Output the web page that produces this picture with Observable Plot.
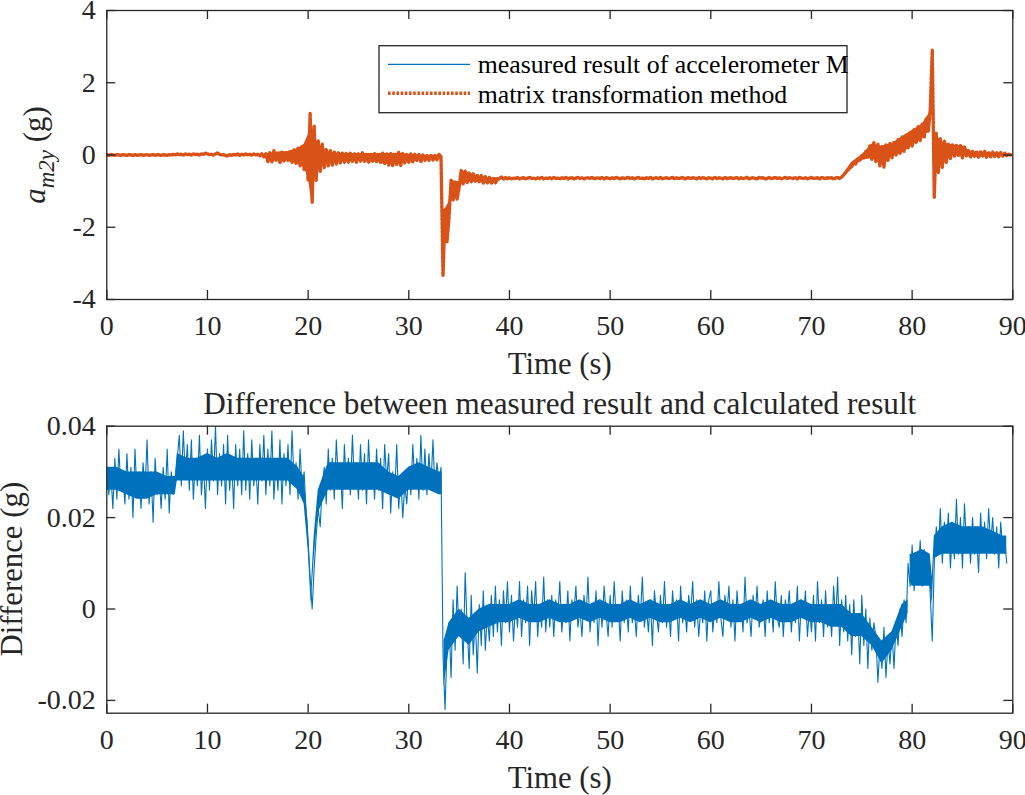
<!DOCTYPE html>
<html>
<head>
<meta charset="utf-8">
<script src="https://cdn.jsdelivr.net/npm/d3@7"></script>
<script src="https://cdn.jsdelivr.net/npm/@observablehq/plot@0.6"></script>
<style>
  html, body { margin: 0; padding: 0; background: #fff; }
  #chart { width: 1025px; height: 795px; }
  #chart svg { display: block; }
</style>
</head>
<body>
<div id="chart"></div>
<script>
// ---------- data ----------
const sampleInterval = 0.2; // s between samples
const xTicks = [0, 10, 20, 30, 40, 50, 60, 70, 80, 90];
const accelTicks = [-4, -2, 0, 2, 4];
const diffTicks = [-0.02, 0, 0.02, 0.04];
const legendLabels = ["measured result of accelerometer M", "matrix transformation method"];
const diffTitle = "Difference between measured result and calculated result";

// a_m2y (g), measured (0.2 s steps)
const accelMeasured = [
  0.01,-0.01,0.01,0,-0.01,0.01,0,-0.01,0.01,0,
  -0.01,0.01,0,-0.01,0.01,-0.01,0,0.01,-0.01,0,
  0.01,-0.01,0,0.01,-0.01,0.01,0,-0.01,0.01,0,
  -0.01,0.01,0,0.02,0,0.03,0.01,0.02,0,0.03,
  0.01,0.02,0,0.03,0.01,0.02,0,0.03,0.02,0.05,
  0.03,0.01,0.02,0,0.03,0.06,0.02,0,0.01,-0.02,
  -0.02,0.01,-0.01,0.02,0,0.03,-0.01,0.02,0,0.03,
  0,0.02,-0.01,0.03,0,0.02,-0.02,0.04,-0.05,0.03,
  -0.18,0.06,-0.2,0.12,-0.15,0.04,-0.22,0.08,-0.18,0.05,
  -0.15,0.1,-0.2,0.14,-0.25,0.2,-0.3,0.25,-0.4,0.35,
  -0.7,1.16,-1.31,0.8,-0.7,0.4,-0.45,0.3,-0.35,0.15,
  -0.3,0.12,-0.28,0.08,-0.25,0.06,-0.22,0.05,-0.2,0.04,
  -0.2,0.05,-0.18,0.03,-0.2,0.04,-0.17,0.06,-0.19,0.03,
  -0.21,0.02,-0.18,0.04,-0.2,0.02,-0.22,0.05,-0.25,0.03,
  -0.28,0.05,-0.3,0.02,-0.26,0.07,-0.29,0.04,-0.22,0.01,
  -0.2,0.03,-0.19,0.02,-0.16,0.01,-0.18,0,-0.15,-0.02,
  -0.15,0,-0.14,-0.02,-0.13,0.02,-0.05,-3.35,-1.5,-2.4,
  -1.7,-0.7,-1.25,-0.75,-1.22,-0.9,-0.43,-0.8,-0.45,-0.76,
  -0.5,-0.74,-0.52,-0.72,-0.55,-0.74,-0.57,-0.78,-0.6,-0.77,
  -0.62,-0.78,-0.66,-0.77,-0.68,-0.65,-0.61,-0.67,-0.62,-0.66,
  -0.63,-0.66,-0.64,-0.65,-0.62,-0.66,-0.64,-0.63,-0.66,-0.64,
  -0.62,-0.65,-0.64,-0.66,-0.63,-0.65,-0.62,-0.66,-0.64,-0.65,
  -0.63,-0.66,-0.62,-0.65,-0.64,-0.66,-0.63,-0.65,-0.62,-0.66,
  -0.64,-0.63,-0.66,-0.64,-0.62,-0.65,-0.63,-0.66,-0.64,-0.63,
  -0.65,-0.62,-0.66,-0.64,-0.63,-0.65,-0.62,-0.66,-0.63,-0.64,
  -0.66,-0.63,-0.65,-0.62,-0.64,-0.66,-0.63,-0.65,-0.64,-0.62,
  -0.65,-0.63,-0.66,-0.64,-0.62,-0.65,-0.64,-0.66,-0.63,-0.65,
  -0.62,-0.66,-0.64,-0.63,-0.65,-0.62,-0.66,-0.64,-0.63,-0.65,
  -0.64,-0.62,-0.66,-0.63,-0.65,-0.64,-0.62,-0.66,-0.64,-0.63,
  -0.65,-0.63,-0.64,-0.66,-0.62,-0.65,-0.63,-0.64,-0.66,-0.63,
  -0.64,-0.66,-0.62,-0.65,-0.63,-0.64,-0.66,-0.62,-0.65,-0.64,
  -0.63,-0.65,-0.64,-0.62,-0.66,-0.63,-0.65,-0.64,-0.62,-0.66,
  -0.64,-0.63,-0.65,-0.66,-0.62,-0.64,-0.63,-0.66,-0.65,-0.62,
  -0.66,-0.64,-0.62,-0.65,-0.63,-0.66,-0.64,-0.62,-0.65,-0.63,
  -0.64,-0.65,-0.63,-0.66,-0.62,-0.64,-0.65,-0.63,-0.66,-0.64,
  -0.62,-0.65,-0.64,-0.63,-0.66,-0.62,-0.64,-0.65,-0.63,-0.64,
  -0.63,-0.66,-0.64,-0.62,-0.65,-0.61,-0.55,-0.49,-0.42,-0.36,
  -0.32,-0.22,-0.25,-0.12,-0.16,-0.02,-0.08,0.1,-0.05,0.25,
  -0.12,0.35,-0.18,0.3,-0.3,0.22,-0.34,0.28,-0.15,0.32,
  -0.08,0.35,0,0.42,0.05,0.5,0.1,0.55,0.2,0.62,
  0.25,0.7,0.35,0.78,0.4,0.85,0.5,1,0.65,1.25,
  2.9,-1.17,0.6,-0.5,0.45,-0.35,0.38,-0.2,0.3,-0.1,
  0.28,-0.03,0.27,-0.01,0.26,-0.08,0.22,-0.02,0.12,-0.05,
  0.1,-0.05,0.08,-0.06,0.09,-0.04,0.1,-0.06,0.07,-0.05,
  0.08,-0.04,0.06,-0.05,0.07,-0.03,0.05,-0.02,0.03,0
];

// dense core of the a_m2y trace: [time s, low g, high g]; null = gap
const accelBand = [
  [15.8,-0.02,0.03],[16,-0.15,0.05],[17,-0.18,0.08],[18,-0.17,0.1],[19,-0.25,0.18],
  [19.6,-0.35,0.3],[20,-0.6,0.55],[20.3,-1.2,1.05],[20.6,-0.6,0.55],[21,-0.38,0.3],
  [22,-0.25,0.1],[23,-0.2,0.05],[24,-0.18,0.04],[25,-0.18,0.04],[26,-0.18,0.04],
  [27,-0.2,0.04],[28,-0.25,0.04],[29,-0.26,0.05],[30,-0.18,0.02],[31,-0.16,0],
  [32,-0.13,-0.01],[33.2,-0.12,0],
  [33.4,null,null],
  [33.6,-2.3,-1.5],[34,-1.9,-1.3],[34.2,-1.25,-0.7],[35,-1.2,-0.75],
  [35.1,null,null],
  [35.2,-0.8,-0.43],[36,-0.75,-0.5],[37,-0.76,-0.58],[38,-0.78,-0.64],[39,-0.68,-0.62],
  [39.2,null,null],
  [73.2,-0.58,-0.52],[74,-0.35,-0.2],[75,-0.15,0],[76,-0.1,0.3],[77,-0.25,0.25],
  [78,-0.05,0.32],[79,0.05,0.5],[80,0.25,0.68],[81,0.45,0.85],[81.8,0.7,1.2],
  [82,null,null],
  [82.2,-0.5,0.6],[83,-0.2,0.35],[84,-0.02,0.28],[85,-0.05,0.25],[85.7,-0.05,0.12],
  [86,-0.05,0.09],[88,-0.04,0.07],[89.8,-0.02,0.03]
];

// Difference (milli-g), 0.2 s steps
const diffMilliG = [
  31,25,30,22,33,24,35,26,29,23,
  34,24,31,20,35,25,30,22,32,26,
  37,23,30,19,33,25,29,22,31,24,
  35,21,30,25,28,33,38,27,39,29,
  36,26,37,24,33,27,38,25,32,22,
  35,26,37,28,40,25,34,27,36,23,
  38,26,33,22,36,27,35,25,39,26,
  34,24,37,27,32,23,36,28,38,25,
  35,27,39,24,33,26,37,23,34,27,
  36,25,39,28,32,24,35,26,30,21,
  15,7,0,9,16,22,18,27,31,23,
  35,26,33,24,37,28,31,22,36,27,
  33,25,38,27,32,24,36,26,34,23,
  37,27,32,24,35,26,33,22,36,28,
  34,21,30,25,36,22,29,20,27,23,
  31,25,36,27,33,24,38,26,35,25,
  34,27,37,26,32,28,31,-10,-22,-8,
  -3,-15,2,-9,5,-6,0,-12,8,-4,
  -13,3,-10,-2,-14,1,-8,4,-9,-1,
  -7,3,-6,5,-5,2,-8,4,-3,6,
  -5,3,-7,1,-4,6,-6,2,-3,5,
  -8,4,-2,6,-6,1,-4,7,-5,2,
  -4,3,-6,2,-2,6,-5,1,-3,4,
  -7,2,-1,5,-4,0,-6,3,-2,7,
  -5,1,-3,4,-8,2,-4,5,-1,-6,
  3,-4,6,-2,1,-7,4,-3,2,-5,
  5,-3,0,-6,3,-2,7,-4,1,-5,
  2,-8,4,-1,-5,3,-3,6,-4,1,
  -6,4,-2,2,-7,5,-3,1,-5,3,
  -1,6,-4,2,-6,0,-3,4,-7,2,
  4,-5,1,-3,6,-2,-6,3,-1,5,
  -4,2,-7,4,-2,1,-5,7,-3,0,
  -6,3,-2,5,-4,-1,2,-6,4,-3,
  1,-5,6,-2,-4,3,-6,2,-1,4,
  -5,1,-3,5,-7,2,-2,4,-6,0,
  -5,3,-7,6,-3,2,-6,4,-4,1,
  -6,5,-3,7,-8,2,-5,3,-7,1,
  -10,2,-6,-1,-12,3,-8,0,-13,-2,
  -9,-3,-6,-16,-8,-13,-4,-15,-7,-12,
  -5,-13,-3,-8,0,-6,2,-3,10,5,
  14,4,12,7,15,5,13,8,11,3,
  -7,10,18,12,22,10,19,13,21,9,
  17,11,24,12,20,9,23,14,18,10,
  20,12,16,8,21,13,19,11,22,14,
  20,12,18,9,19,13,15,10
];

// dense core of the difference trace: [time s, low mg, high mg]; null = gap
const diffBand = [
  [0,26,31],[1,26,31],[2,25,30],[3,24,30],[4,24,30],[5,25,30],[6,25,29],[6.8,25,29],
  [7,28,34],[8,28,33],[9,28,33],[10,28,34],[11,28,33],[12,28,34],[13,28,33],[14,28,33],
  [15,28,33],[16,28,33],[17,28,33],[18,28,33],[19,26,31],[19.6,23,29],[20,13,19],
  [20.3,1,4],[20.6,11,16],[21,21,26],[22,26,32],[23,26,32],[24,26,32],[25,26,32],
  [26,26,32],[27,26,32],[28,25,30],[29,24,29],[30,26,31],[31,26,32],[32,26,31],
  [33,25,30],[33.3,25,30],
  [33.4,null,null],
  [33.5,-17,-7],[34,-9,-3],[35,-6,0],[36,-8,-2],[37,-5,0],[38,-4,1],[39,-3,1],
  [40,-3,1],[41,-2,2],[42,-3,1],[43,-3,1],[44,-2,2],[45,-3,1],[46,-3,1],[47,-2,2],
  [48,-3,1],[49,-2,2],[50,-3,1],[51,-3,1],[52,-2,2],[53,-3,1],[54,-2,2],[55,-3,1],
  [56,-3,1],[57,-2,2],[58,-3,1],[59,-2,2],[60,-3,1],[61,-2,2],[62,-3,1],[63,-3,1],
  [64,-2,2],[65,-3,1],[66,-2,2],[67,-3,1],[68,-3,1],[69,-2,2],[70,-3,1],[71,-3,1],
  [72,-4,1],[73,-4,1],[74,-6,-1],[75,-6,-1],[76,-8,-4],[77,-12,-7],[78,-9,-5],
  [79,-4,1],[79.6,-1,2],
  [79.7,null,null],
  [79.8,6,12],[80,5,12],[81,5,13],[81.8,5,12],[82,1,7],[82.2,11,16],[83,12,18],
  [84,12,19],[85,12,18],[86,12,18],[87,12,18],[88,12,17],[89,12,16],[89.4,12,16]
];

// ---------- build ----------
const accelData = accelMeasured.map((v, i) => ({t: i * sampleInterval, v}));
const diffData = diffMilliG.map((v, i) => ({t: i * sampleInterval, v: v / 1000}));
const accelBandData = accelBand.map(([t, lo, hi]) => ({t, lo, hi}));
const diffBandData = diffBand.map(([t, lo, hi]) => ({t, lo: lo == null ? null : lo / 1000, hi: hi == null ? null : hi / 1000}));

const FONT = "'Liberation Serif', 'Times New Roman', serif";
const INK = "#262626";
const BLUE = "#0072BD";
const ORANGE = "#D95319";
const ML = 106.3, MR = 12.7;
const frameW = 1025 - ML - MR;
const TICK = 9;

function frameMarks(yTicks, frameH, yFormat) {
  return [
    Plot.frame({stroke: INK, strokeWidth: 1.3}),
    Plot.tickX(xTicks, {x: d => d, insetTop: frameH - TICK, stroke: INK, strokeWidth: 1.3}),
    Plot.tickX(xTicks, {x: d => d, insetBottom: frameH - TICK, stroke: INK, strokeWidth: 1.3}),
    Plot.tickY(yTicks, {y: d => d, insetRight: frameW - TICK, stroke: INK, strokeWidth: 1.3}),
    Plot.tickY(yTicks, {y: d => d, insetLeft: frameW - TICK, stroke: INK, strokeWidth: 1.3}),
    Plot.axisX({ticks: xTicks, tickSize: 0, tickPadding: 16, fontSize: 28, label: null, tickFormat: d => String(d)}),
    Plot.axisY({ticks: yTicks, tickSize: 0, tickPadding: 11, fontSize: 28, label: null, tickFormat: yFormat}),
    Plot.text(["Time (s)"], {text: d => d, frameAnchor: "bottom", lineAnchor: "middle", dy: 65, fontSize: 30.8, fill: INK})
  ];
}

// top chart
const topH = 390, topMT = 10, topMB = 91;
const topChart = Plot.plot({
  width: 1025, height: topH,
  marginLeft: ML, marginRight: MR, marginTop: topMT, marginBottom: topMB,
  style: {fontFamily: FONT, fontSize: "28px", color: INK, background: "#fff"},
  x: {domain: [0, 90]},
  y: {domain: [-4, 4]},
  marks: [
    Plot.line(accelData, {x: "t", y: "v", stroke: BLUE, strokeWidth: 1.6, clip: true}),
    Plot.areaY(accelBandData, {x: "t", y1: "lo", y2: "hi", fill: ORANGE, clip: true}),
    Plot.line(accelData, {x: "t", y: "v", stroke: ORANGE, strokeWidth: 3.4, strokeDasharray: "2.6,1.6", clip: true}),
    ...frameMarks(accelTicks, topH - topMT - topMB, d => String(d))
  ]
});

// bottom chart
const botH = 405, botMT = 35.7, botMB = 82.3;
const botChart = Plot.plot({
  width: 1025, height: botH,
  marginLeft: ML, marginRight: MR, marginTop: botMT, marginBottom: botMB,
  style: {fontFamily: FONT, fontSize: "28px", color: INK, background: "#fff"},
  x: {domain: [0, 90]},
  y: {domain: [-0.0228, 0.04]},
  marks: [
    Plot.areaY(diffBandData, {x: "t", y1: "lo", y2: "hi", fill: BLUE, clip: true}),
    Plot.line(diffData, {x: "t", y: "v", stroke: BLUE, strokeWidth: 1.1, clip: true}),
    ...frameMarks(diffTicks, botH - botMT - botMB, d => d === 0 ? "0" : d.toFixed(2)),
    Plot.text([diffTitle], {text: d => d, frameAnchor: "top", lineAnchor: "middle", dy: -22.3, fontSize: 31.2, fill: INK})
  ]
});

const root = document.getElementById("chart");
root.appendChild(topChart);
root.appendChild(botChart);

// y-axis label (top): a_{m2y} (g)
{
  const s = d3.select(topChart);
  const t = s.append("text")
    .attr("transform", "translate(45,155) rotate(-90)")
    .attr("text-anchor", "middle")
    .attr("font-family", FONT).attr("font-size", 30.8).attr("fill", INK);
  t.append("tspan").attr("font-style", "italic").text("a");
  t.append("tspan").attr("font-style", "italic").attr("font-size", 23).attr("dy", 9).text("m2y");
  t.append("tspan").attr("dy", -9).text(" (g)");

  // legend
  const g = s.append("g");
  g.append("rect").attr("x", 379).attr("y", 45.7).attr("width", 468).attr("height", 67)
    .attr("fill", "#fff").attr("stroke", INK).attr("stroke-width", 1.3);
  g.append("line").attr("x1", 388).attr("x2", 470).attr("y1", 64.3).attr("y2", 64.3)
    .attr("stroke", BLUE).attr("stroke-width", 1.3);
  g.append("line").attr("x1", 388).attr("x2", 470).attr("y1", 93.3).attr("y2", 93.3)
    .attr("stroke", ORANGE).attr("stroke-width", 3.4).attr("stroke-dasharray", "2.6,1.6");
  [73.3, 102.8].forEach((y, i) => {
    g.append("text").attr("x", 477.7).attr("y", y)
      .attr("text-anchor", "start")
      .attr("font-family", FONT).attr("font-size", 25.8).attr("fill", "#000")
      .text(legendLabels[i]);
  });
}
// y-axis label (bottom)
d3.select(botChart).append("text")
  .attr("transform", "translate(22,179.2) rotate(-90)")
  .attr("text-anchor", "middle")
  .attr("font-family", FONT).attr("font-size", 30.8).attr("fill", INK)
  .text("Difference (g)");
</script>
</body>
</html>
